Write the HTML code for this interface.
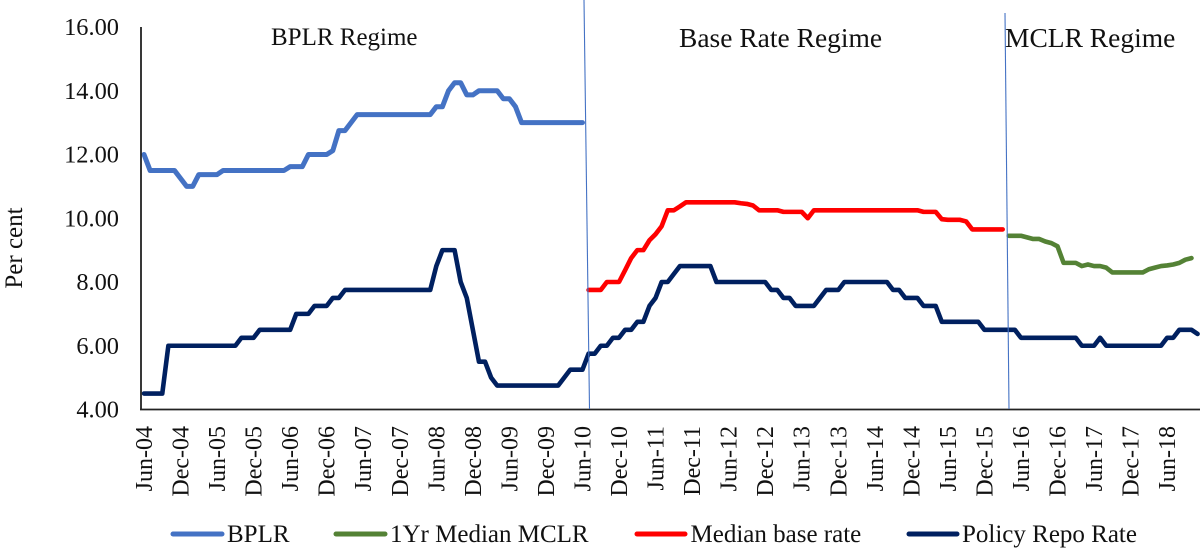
<!DOCTYPE html>
<html>
<head>
<meta charset="utf-8">
<title>Lending rate regimes chart</title>
<style>
html,body{margin:0;padding:0;background:#fff;width:1200px;height:550px;overflow:hidden}
svg{display:block}
text{font-family:"Liberation Serif","Times New Roman",serif;fill:#111}
</style>
</head>
<body>
<svg id="chart" xmlns="http://www.w3.org/2000/svg" width="1200" height="550" viewBox="0 0 1200 550">
  <rect x="0" y="0" width="1200" height="550" fill="#fff"/>
  <g id="series-layer"></g>
  <line x1="141" y1="27" x2="141" y2="410" stroke="#222" stroke-width="1.8"/>
  <line x1="140" y1="409.5" x2="1200" y2="409.5" stroke="#222" stroke-width="1.8"/>
  <g id="y-tick-layer"></g>
  <g id="x-tick-layer"></g>
  <line x1="584" y1="0" x2="589.5" y2="409" stroke="#4472c4" stroke-width="1.1"/>
  <line x1="1005" y1="13" x2="1009" y2="409" stroke="#4472c4" stroke-width="1.1"/>
  <text transform="translate(22,248) rotate(-90)" text-anchor="middle" font-size="25">Per cent</text>
  <text x="271" y="45" font-size="25">BPLR Regime</text>
  <text x="679" y="47" font-size="27.5">Base Rate Regime</text>
  <text x="1005" y="47" font-size="27.5">MCLR Regime</text>
  <g>
    <g>
      <line x1="173" y1="534" x2="222" y2="534" stroke="#4472c4" stroke-width="5" stroke-linecap="round"/>
      <text x="227" y="542" font-size="25">BPLR</text>
    </g>
    <g>
      <line x1="336" y1="534" x2="385" y2="534" stroke="#548235" stroke-width="5" stroke-linecap="round"/>
      <text x="390" y="542" font-size="25">1Yr Median MCLR</text>
    </g>
    <g>
      <line x1="637" y1="534" x2="685" y2="534" stroke="#ff0000" stroke-width="5" stroke-linecap="round"/>
      <text x="690.5" y="542" font-size="25">Median base rate</text>
    </g>
    <g>
      <line x1="909" y1="534" x2="957" y2="534" stroke="#002060" stroke-width="5" stroke-linecap="round"/>
      <text x="962" y="542" font-size="25">Policy Repo Rate</text>
    </g>
  </g>
</svg>
<script>
const xTickLabels = ["Jun-04","Dec-04","Jun-05","Dec-05","Jun-06","Dec-06","Jun-07","Dec-07","Jun-08","Dec-08","Jun-09","Dec-09","Jun-10","Dec-10","Jun-11","Dec-11","Jun-12","Dec-12","Jun-13","Dec-13","Jun-14","Dec-14","Jun-15","Dec-15","Jun-16","Dec-16","Jun-17","Dec-17","Jun-18"];
const yTickValues = [4,6,8,10,12,14,16];

const bplrStartMonth = 0;
const bplrValues = [12,11.5,11.5,11.5,11.5,11.5,11.25,11,11,11.37,11.37,11.37,11.37,11.5,
11.5,11.5,11.5,11.5,11.5,11.5,11.5,11.5,11.5,11.5,11.62,11.62,11.62,12,12,12,12,12.12,12.75,12.75,13,13.25,
13.25,13.25,13.25,13.25,13.25,13.25,13.25,13.25,13.25,13.25,13.25,13.25,13.5,13.5,14,14.25,14.25,13.87,13.87,14,14,14,14,13.75,13.75,13.5,13,
13,13,13,13,13,13,13,13,13,13];

const repoStartMonth = 0;
const repoValues = [4.5,4.5,4.5,4.5,
6,6,6,6,6,6,6,6,6,6,6,6,
6.25,6.25,6.25,6.5,6.5,6.5,6.5,6.5,6.5,7,7,7,7.25,7.25,7.25,7.5,7.5,
7.75,7.75,7.75,7.75,7.75,7.75,7.75,7.75,7.75,7.75,7.75,7.75,7.75,7.75,7.75,
8.5,9,9,9,8,7.5,6.5,5.5,5.5,5,
4.75,4.75,4.75,4.75,4.75,4.75,4.75,4.75,4.75,4.75,4.75,
5,5.25,5.25,5.25,5.75,5.75,6,6,6.25,6.25,6.5,6.5,6.75,6.75,7.25,7.5,8,8,8.25,
8.5,8.5,8.5,8.5,8.5,8.5,
8,8,8,8,8,8,8,8,8,
7.75,7.75,7.5,7.5,7.25,7.25,7.25,7.25,7.5,7.75,7.75,7.75,
8,8,8,8,8,8,8,8,
7.75,7.75,7.5,7.5,7.5,7.25,7.25,7.25,
6.75,6.75,6.75,6.75,6.75,6.75,6.75,
6.5,6.5,6.5,6.5,6.5,6.5,
6.25,6.25,6.25,6.25,6.25,6.25,6.25,6.25,6.25,6.25,
6,6,6,6.25,
6,6,6,6,6,6,6,6,6,6,
6.25,6.25,6.5,6.5,6.5,6.37];

const baseRateStartMonth = 73;
const baseRateValues = [7.75,7.75,7.75,8,8,8,8.37,8.75,9,9,9.31,9.5,9.75,10.25,10.25,10.37,
10.5,10.5,10.5,10.5,10.5,10.5,10.5,10.5,10.5,10.47,10.45,10.4,
10.25,10.25,10.25,10.25,10.2,10.2,10.2,10.2,10,
10.25,10.25,10.25,10.25,10.25,10.25,10.25,10.25,10.25,10.25,10.25,10.25,10.25,10.25,10.25,10.25,10.25,10.25,
10.2,10.2,10.2,9.97,9.95,9.95,9.95,9.9,9.65,9.65,9.65,9.65,9.65,9.65];

const mclrStartMonth = 142;
const mclrValues = [9.45,9.45,9.45,9.4,9.35,9.35,9.27,9.22,9.12,8.6,8.6,8.6,8.5,8.55,8.5,8.5,8.45,
8.3,8.3,8.3,8.3,8.3,8.3,8.4,8.45,8.5,8.52,8.55,8.6,8.7,8.75];

const SVG_NS = "http://www.w3.org/2000/svg";
const xScale = function (month) { return 144 + 6.09 * month; };
const yScale = function (value) { return 409.5 - (value - 4) * 31.875; };

function drawSeries(values, startMonth, color, width, name) {
  const points = values.map(function (v, i) {
    return xScale(startMonth + i).toFixed(2) + "," + yScale(v).toFixed(2);
  }).join(" ");
  const line = document.createElementNS(SVG_NS, "polyline");
  line.setAttribute("points", points);
  line.setAttribute("fill", "none");
  line.setAttribute("stroke", color);
  line.setAttribute("stroke-width", width);
  line.setAttribute("stroke-linejoin", "round");
  line.setAttribute("stroke-linecap", "round");
  
  
  document.getElementById("series-layer").appendChild(line);
}

drawSeries(bplrValues, bplrStartMonth, "#4472c4", 5, "series-bplr");
drawSeries(mclrValues, mclrStartMonth, "#548235", 4.6, "series-mclr");
drawSeries(baseRateValues, baseRateStartMonth, "#ff0000", 4.6, "series-median-base-rate");
drawSeries(repoValues, repoStartMonth, "#002060", 4.6, "series-policy-repo-rate");

yTickValues.forEach(function (v) {
  const t = document.createElementNS(SVG_NS, "text");
  t.setAttribute("x", "119");
  t.setAttribute("y", (yScale(v) + 8).toFixed(2));
  t.setAttribute("text-anchor", "end");
  t.setAttribute("font-size", "24.4");
  
  
  t.textContent = v.toFixed(2);
  document.getElementById("y-tick-layer").appendChild(t);
});

xTickLabels.forEach(function (label, i) {
  const t = document.createElementNS(SVG_NS, "text");
  const px = xScale(i * 6) + 8;
  t.setAttribute("transform", "translate(" + px.toFixed(2) + ",426) rotate(-90)");
  t.setAttribute("text-anchor", "end");
  t.setAttribute("font-size", "24");
  
  
  t.textContent = label;
  document.getElementById("x-tick-layer").appendChild(t);
});
</script>
</body>
</html>
